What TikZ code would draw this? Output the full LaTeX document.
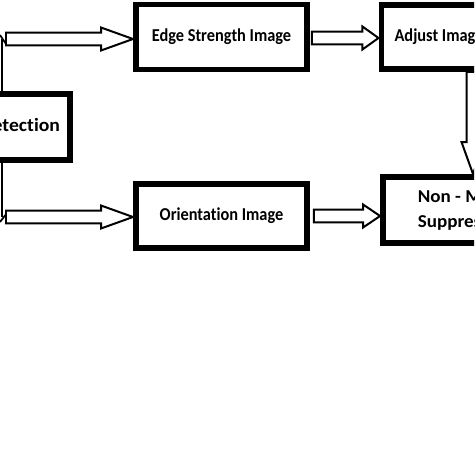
\documentclass[tikz,border=0pt]{standalone}
\usepackage{fontspec}
\setmainfont{Carlito}[FakeStretch=0.9,Ligatures=NoCommon]
\newfontfamily\widefont{Carlito}[FakeStretch=1.05,Ligatures=NoCommon]
\usetikzlibrary{calc}

% hollow block arrows: #1 start, #2 tip, #3 head length
\newcommand{\harrow}[3]{%
  \draw[Hollow] let \p1=#1, \p2=#2 in
    (\x1,\y1+5.5pt) -- (\x2-#3,\y1+5.5pt) -- (\x2-#3,\y1+9.8pt) -- (\x2,\y1)
    -- (\x2-#3,\y1-9.8pt) -- (\x2-#3,\y1-5.5pt) -- (\x1,\y1-5.5pt) -- cycle;}
\newcommand{\varrow}[3]{%
  \draw[Hollow] let \p1=#1, \p2=#2 in
    (\x1-5.5pt,\y1) -- (\x1-5.5pt,\y2+#3) -- (\x1-9.8pt,\y2+#3) -- (\x1,\y2)
    -- (\x1+9.8pt,\y2+#3) -- (\x1+5.5pt,\y2+#3) -- (\x1+5.5pt,\y1) -- cycle;}

\begin{document}
\begin{tikzpicture}[x=0.3mm,y=-0.3mm]
	\tikzstyle{Block} = [draw,line width=5.1pt,rectangle,inner sep=0pt,
	  font=\bfseries\fontsize{15.5}{22}\selectfont]
	\tikzstyle{Wide} = [font=\widefont\bfseries\fontsize{15.5}{22}\selectfont]
	\tikzstyle{Hollow} = [draw,fill=white,line width=1.7pt,line join=miter]
	\useasboundingbox (0,0) rectangle (474,474);
	\clip (0,0) rectangle (474,474);
	\node[Block,font=\widefont\bfseries\fontsize{16}{22}\selectfont,minimum width=42.9mm,minimum height=19.8mm] (det) at (-1.5,127) {Edge Detection};
	\node[Block,minimum width=51.3mm,minimum height=19.5mm] (es) at (221.5,37) {Edge Strength Image};
	\node[Block,minimum width=51.3mm,minimum height=19.2mm] (or) at (221.5,216) {Orientation Image};
	\node[Block,minimum width=34.5mm,minimum height=19.2mm] (adj) at (439,37) {Adjust Image};
	\node[Block,Wide,minimum width=59.3mm,minimum height=19.8mm,align=left] (nms) at (481.9,210) {Non - Maximum\\Suppression};
	\coordinate (jt) at (2,39);
	\coordinate (jb) at (2,217);
	\coordinate (vx) at (473,0);
	\draw[line width=2.5pt] (jt) -- (jt |- det.north);
	\draw[line width=2.5pt] (jt |- det.south) -- (jb);
	\draw[line width=1.5pt] ($(jt)+(-2,-4)$) -- ($(jt)+(4,5)$);
	\draw[line width=1.5pt] ($(jb)+(-2,5)$) -- ($(jb)+(5,-4)$);
	\harrow{($(jt)+(4,0)$)}{(es.west)}{27.3pt}
	\harrow{($(jb)+(4,0)$)}{(or.west)}{27.3pt}
	\harrow{($(es.east)+(2,1)$)}{(adj.west)}{13.7pt}
	\harrow{($(or.east)+(4,0)$)}{(nms.west)}{14.5pt}
	\varrow{(adj.south -| vx)}{(nms.north -| vx)}{27.3pt}
\end{tikzpicture}
\end{document}
